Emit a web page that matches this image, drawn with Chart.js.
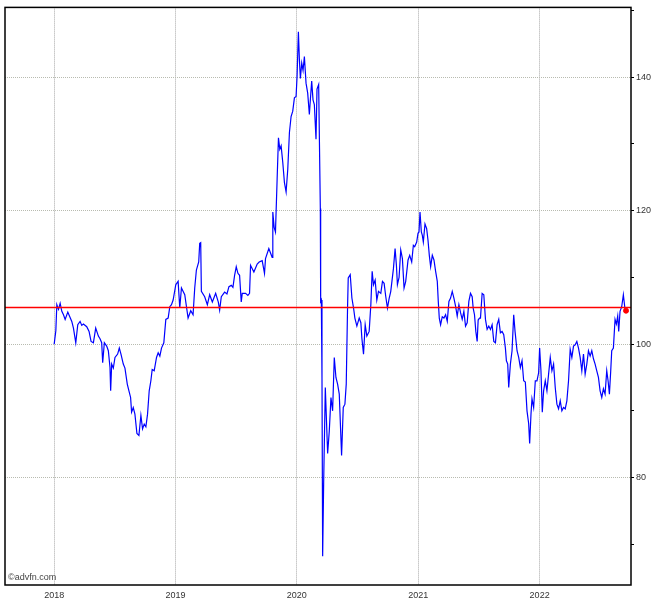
<!DOCTYPE html>
<html>
<head>
<meta charset="utf-8">
<script src="https://cdn.jsdelivr.net/npm/chart.js@4/dist/chart.umd.min.js"></script>
<style>
html,body{margin:0;padding:0;background:#fff;}
canvas{display:block;}
</style>
</head>
<body>
<canvas id="c" width="670" height="600"></canvas>
<script>
// Days since 2018-01-01
const days = [0,5,8,13,18,23,28,33,41,46,53,58,65,71,78,83,88,98,105,111,118,125,133,138,143,146,151,158,163,168,170,173,178,183,191,196,201,208,213,220,225,230,233,238,243,249,255,261,266,271,276,281,286,291,295,301,308,313,318,323,330,336,343,348,353,358,366,373,378,383,393,403,411,418,423,428,435,438,441,443,453,461,468,476,486,494,498,503,513,520,526,533,538,543,548,553,558,563,566,576,583,588,591,601,611,617,626,633,636,646,656,658,662,666,671,675,679,683,688,693,698,703,708,713,718,723,728,731,735,738,741,745,749,753,758,763,768,771,775,779,783,788,791,796,801,802,804,806,808,811,816,823,828,833,838,843,848,853,858,865,870,875,879,883,885,891,896,901,905,911,918,923,926,931,936,941,948,953,957,961,966,971,976,983,988,993,998,1003,1008,1013,1021,1026,1030,1033,1038,1043,1048,1053,1058,1065,1070,1076,1081,1085,1091,1095,1098,1101,1105,1108,1111,1116,1121,1125,1129,1133,1138,1143,1148,1153,1156,1159,1163,1168,1173,1178,1183,1188,1193,1198,1203,1208,1213,1218,1223,1228,1233,1238,1243,1248,1253,1258,1261,1265,1269,1273,1276,1280,1283,1288,1293,1298,1303,1308,1313,1318,1323,1328,1333,1338,1343,1348,1353,1358,1361,1365,1368,1373,1378,1383,1387,1393,1398,1403,1408,1413,1418,1423,1428,1431,1435,1438,1443,1448,1453,1458,1461,1465,1469,1473,1478,1483,1488,1493,1498,1503,1508,1513,1518,1523,1528,1533,1538,1543,1548,1553,1558,1563,1568,1573,1578,1583,1588,1593,1598,1603,1608,1613,1618,1623,1628,1633,1638,1643,1648,1653,1658,1663,1667,1671,1675,1678,1683,1688,1692,1696,1699,1703,1708,1713,1718,1721];
const values = [100.0,102.0,105.9,105.2,106.1,104.9,104.4,103.7,104.8,104.2,103.4,102.4,100.2,102.9,103.4,102.8,103.0,102.6,101.9,100.4,100.2,102.4,101.2,100.8,100.2,97.2,100.2,99.7,99.0,96.5,93.0,97.0,96.4,98.0,98.5,99.4,98.5,97.0,96.4,94.0,93.0,92.0,89.8,90.5,89.5,86.6,86.3,89.3,87.3,88.0,87.6,89.5,93.0,94.5,96.2,96.0,98.0,98.7,98.2,99.4,100.2,103.7,103.9,105.6,105.9,106.6,108.9,109.4,105.4,108.4,107.4,103.9,105.0,104.4,108.4,111.1,112.3,115.1,115.2,107.9,107.1,105.9,107.4,106.3,107.6,106.3,105.1,107.1,107.8,107.5,108.6,108.8,108.5,110.3,111.6,110.6,110.3,106.3,107.6,107.6,107.3,107.6,111.8,110.8,112.0,112.3,112.5,110.6,112.8,114.3,113.0,119.8,117.5,116.8,124.7,130.9,129.2,129.7,127.2,124.2,122.8,126.2,131.7,134.1,134.9,136.9,137.1,140.1,146.8,142.6,139.8,142.1,141.0,143.1,139.1,137.6,134.4,136.6,139.4,136.6,135.9,130.7,138.2,138.9,120.3,106.4,106.6,95.0,68.2,79.1,93.5,83.6,87.0,92.0,90.0,98.0,95.0,94.0,92.5,83.3,90.5,91.0,94.0,105.6,109.9,110.4,106.9,105.4,103.9,102.7,103.9,103.2,100.9,98.5,102.9,101.2,101.9,105.9,110.9,108.9,109.6,106.6,107.9,107.6,109.4,109.1,107.1,105.4,106.8,107.9,111.3,114.3,111.8,108.9,110.0,114.1,112.8,108.4,109.4,112.6,113.3,112.3,114.8,114.6,115.3,116.6,116.8,119.8,116.8,116.3,115.3,118.0,117.3,115.6,113.3,111.6,113.3,112.6,110.9,109.4,106.4,103.9,102.9,104.1,103.9,104.4,103.4,106.4,106.9,107.9,106.9,105.7,104.2,105.9,104.7,103.7,104.9,102.7,103.2,106.4,107.6,107.1,105.4,104.4,101.9,100.4,103.6,103.9,103.9,107.6,107.4,103.7,102.2,102.7,102.2,102.9,100.4,100.2,102.9,103.7,101.7,101.9,101.4,99.4,97.5,97.0,93.5,97.0,99.0,104.4,101.9,99.0,98.0,96.5,97.5,94.5,94.3,90.0,88.1,85.1,89.5,91.8,90.5,94.5,94.5,95.7,99.4,96.0,89.8,93.0,94.5,93.0,95.5,98.0,96.0,97.0,93.5,91.0,90.3,91.5,90.0,90.5,90.3,91.5,94.5,99.2,98.0,99.7,99.9,100.4,99.4,98.0,96.0,98.5,95.5,97.0,99.0,98.2,99.0,97.8,97.0,96.0,95.0,93.0,92.0,93.3,92.5,96.0,94.5,92.5,96.0,99.0,99.4,103.7,103.0,104.2,101.9,104.9,105.6,107.4,105.2,105.0];
const yearLabels = [2018, 2019, 2020, 2021, 2022];
const yTickValues = [70, 80, 90, 100, 110, 120, 130, 140, 150];
const refLevel = 105.5;
const xMin = -148, xMax = 1736;
const yMin = 63.9, yMax = 150.45;

const DAY = 86400000;
const base = Date.UTC(2018, 0, 1);
const yearPos = yearLabels.map(y => (Date.UTC(y, 0, 1) - base) / DAY);
const posToYear = {};
yearPos.forEach((p, i) => posToYear[p] = String(yearLabels[i]));

const lineData = days.map((d, i) => ({x: d, y: values[i]}));
const last = lineData[lineData.length - 1];

const framePlugin = {
  id: 'frame',
  afterDraw(chart) {
    const {ctx, chartArea: a} = chart;
    ctx.save();
    ctx.strokeStyle = '#000';
    ctx.lineWidth = 1.5;
    ctx.strokeRect(a.left, a.top, a.right - a.left, a.bottom - a.top);
    ctx.fillStyle = '#444';
    ctx.font = '9px "Liberation Sans", Arial, sans-serif';
    ctx.textBaseline = 'alphabetic';
    ctx.textAlign = 'left';
    ctx.fillText('\u00A9advfn.com', a.left + 3, a.bottom - 5);
    ctx.restore();
  }
};

new Chart(document.getElementById('c'), {
  type: 'line',
  data: {
    datasets: [
      {
        data: lineData,
        borderColor: '#0000ff',
        borderWidth: 1.2,
        pointRadius: 0,
        tension: 0,
        order: 3
      },
      {
        data: [{x: xMin, y: refLevel}, {x: xMax, y: refLevel}],
        borderColor: '#ff0000',
        borderWidth: 1.5,
        pointRadius: 0,
        order: 2
      },
      {
        data: [last],
        borderColor: '#ff0000',
        backgroundColor: '#ff0000',
        pointRadius: 2.5,
        showLine: false,
        order: 1
      }
    ]
  },
  options: {
    responsive: false,
    animation: false,
    layout: {padding: {left: 3, top: 3, right: 0, bottom: 0}},
    plugins: {legend: {display: false}, tooltip: {enabled: false}},
    scales: {
      x: {
        type: 'linear',
        min: xMin,
        max: xMax,
        afterBuildTicks: s => { s.ticks = yearPos.map(v => ({value: v})); },
        afterFit: s => { s.height = 15; },
        grid: {color: '#a8a8a8', drawTicks: false, lineWidth: 1},
        border: {display: false, dash: [1, 1]},
        ticks: {
          padding: 5,
          maxRotation: 0,
          autoSkip: false,
          color: '#333',
          font: {family: '"Liberation Sans", Arial, sans-serif', size: 9},
          callback: v => posToYear[v] || ''
        }
      },
      y: {
        type: 'linear',
        position: 'right',
        min: yMin,
        max: yMax,
        afterBuildTicks: s => { s.ticks = yTickValues.map(v => ({value: v})); },
        afterFit: s => { s.width = 39; },
        grid: {
          color: c => (c.tick && c.tick.value % 20 === 0) ? '#b8bbb0' : 'rgba(0,0,0,0)',
          tickColor: '#000',
          tickLength: 3,
          lineWidth: 1
        },
        border: {display: false, dash: [1, 1]},
        ticks: {
          padding: 2,
          autoSkip: false,
          color: '#333',
          font: {family: '"Liberation Sans", Arial, sans-serif', size: 9},
          callback: v => (v % 20 === 0) ? String(v) : ''
        }
      }
    }
  },
  plugins: [framePlugin]
});
</script>
</body>
</html>
